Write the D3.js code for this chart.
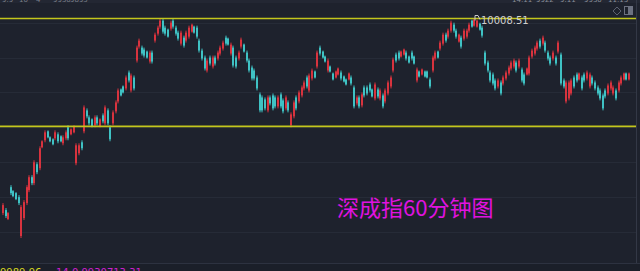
<!DOCTYPE html>
<html>
<head>
  <meta charset="UTF-8">
  <style>
    html, body { margin: 0; padding: 0; background: #1e222d; overflow: hidden; }
    svg { display: block; }
  </style>
</head>
<body>
<svg></svg>
<script src="https://d3js.org/d3.v7.min.js"></script>
<script>

    let width = 640;
    let height = 271;

    // 60 minute bars, [open, high, low, close]
    let candles = [
      [9423,9453,9417,9447],[9432,9438,9408,9414],[9405,9426,9402,9423],[9501,9507,9477,9483],
      [9489,9492,9471,9474],[9483,9486,9462,9465],[9471,9477,9447,9453],[9354,9447,9348,9441],
      [9408,9462,9402,9456],[9453,9507,9447,9501],[9492,9537,9486,9531],[9531,9537,9507,9513],
      [9513,9582,9507,9576],[9570,9576,9540,9546],[9558,9624,9552,9618],[9621,9642,9618,9639],
      [9642,9672,9636,9666],[9669,9672,9648,9651],[9651,9654,9636,9639],[9645,9648,9627,9630],
      [9648,9672,9642,9666],[9660,9666,9633,9639],[9654,9657,9636,9639],[9633,9657,9627,9651],
      [9648,9672,9642,9666],[9681,9687,9642,9648],[9660,9678,9657,9675],[9666,9687,9663,9684],
      [9573,9633,9567,9627],[9603,9633,9597,9627],[9636,9642,9612,9618],[9669,9747,9663,9741],
      [9732,9738,9708,9714],[9711,9717,9687,9693],[9705,9708,9681,9684],[9687,9717,9681,9711],
      [9711,9717,9687,9693],[9684,9708,9681,9705],[9717,9723,9693,9699],[9693,9747,9687,9741],
      [9732,9738,9687,9693],[9681,9687,9639,9645],[9693,9732,9687,9726],[9729,9762,9723,9756],
      [9759,9798,9753,9792],[9795,9798,9774,9777],[9804,9807,9783,9786],[9798,9837,9792,9831],
      [9846,9852,9816,9822],[9792,9843,9786,9837],[9831,9837,9792,9798],[9882,9927,9876,9921],
      [9924,9948,9918,9942],[9921,9927,9897,9903],[9915,9921,9891,9897],[9909,9912,9888,9891],
      [9879,9912,9873,9906],[9906,9912,9873,9879],[9942,9966,9936,9960],[9963,9987,9957,9981],
      [9984,10008,9978,10002],[10002,10008,9963,9969],[9981,9987,9957,9963],[9975,9978,9951,9954],
      [9978,10002,9972,9996],[10002,10008,9978,9984],[9981,9987,9957,9963],[9966,9972,9942,9948],
      [9933,9972,9927,9966],[9951,9957,9921,9927],[9942,9972,9936,9966],[9954,9987,9948,9981],
      [9969,9993,9966,9990],[9984,9987,9963,9966],[9981,9987,9948,9954],[9942,9948,9906,9912],
      [9912,9918,9882,9888],[9891,9897,9852,9858],[9852,9888,9846,9882],[9891,9897,9867,9873],
      [9864,9897,9858,9891],[9891,9897,9867,9873],[9888,9912,9882,9906],[9903,9927,9897,9921],
      [9918,9942,9912,9936],[9951,9957,9927,9933],[9948,9951,9927,9930],[9903,9936,9897,9930],
      [9921,9927,9861,9867],[9891,9897,9858,9864],[9888,9912,9882,9906],[9924,9951,9918,9945],
      [9930,9933,9906,9909],[9906,9912,9876,9882],[9882,9888,9846,9852],[9861,9867,9822,9828],
      [9852,9858,9822,9828],[9831,9837,9792,9798],[9780,9786,9726,9732],[9771,9777,9726,9732],
      [9765,9771,9732,9738],[9732,9777,9726,9771],[9771,9777,9747,9753],[9777,9783,9732,9738],
      [9771,9777,9738,9744],[9744,9777,9738,9771],[9780,9786,9738,9744],[9762,9768,9723,9729],
      [9738,9777,9732,9771],[9756,9762,9726,9732],[9687,9726,9681,9720],[9714,9762,9708,9756],
      [9771,9777,9732,9738],[9759,9792,9753,9786],[9777,9807,9771,9801],[9798,9822,9792,9816],
      [9831,9837,9798,9804],[9792,9843,9786,9837],[9828,9858,9822,9852],[9849,9852,9828,9831],
      [9864,9912,9858,9906],[9921,9927,9897,9903],[9909,9912,9888,9891],[9894,9897,9876,9879],
      [9852,9888,9846,9882],[9864,9867,9846,9849],[9843,9846,9822,9825],[9831,9852,9828,9849],
      [9840,9861,9837,9858],[9846,9852,9822,9828],[9834,9837,9816,9819],[9825,9828,9807,9810],
      [9825,9846,9822,9843],[9831,9837,9807,9813],[9801,9807,9738,9744],[9753,9777,9747,9771],
      [9771,9777,9738,9744],[9747,9786,9741,9780],[9801,9807,9771,9777],[9801,9807,9777,9783],
      [9810,9816,9786,9792],[9795,9798,9771,9774],[9768,9816,9762,9810],[9795,9801,9768,9774],
      [9768,9798,9762,9792],[9777,9783,9738,9744],[9759,9798,9753,9792],[9783,9822,9777,9816],
      [9804,9837,9798,9831],[9852,9891,9846,9885],[9900,9906,9876,9882],[9906,9912,9882,9888],
      [9894,9912,9891,9909],[9900,9918,9897,9915],[9906,9912,9882,9888],[9894,9897,9873,9876],
      [9906,9912,9882,9888],[9894,9897,9870,9873],[9822,9861,9816,9855],[9849,9852,9831,9834],
      [9840,9858,9837,9855],[9849,9852,9831,9834],[9849,9852,9828,9831],[9825,9831,9798,9804],
      [9852,9897,9846,9891],[9888,9912,9882,9906],[9909,9912,9888,9891],[9918,9942,9912,9936],
      [9933,9966,9927,9960],[9960,9966,9936,9942],[9954,9978,9948,9972],[9972,10002,9966,9996],
      [9990,9996,9966,9972],[9972,9978,9948,9954],[9939,9963,9936,9960],[9951,9957,9918,9924],
      [9948,9978,9942,9972],[9954,9978,9948,9972],[9972,9996,9966,9990],[10002,10005,9981,9984],
      [9987,10008.51,9984,10005],[9984,10005,9981,10002],[9993,9996,9972,9975],[9981,9987,9951,9957],
      [9906,9912,9867,9873],[9876,9882,9846,9852],[9846,9852,9816,9822],[9840,9846,9807,9813],
      [9822,9828,9792,9798],[9804,9828,9798,9822],[9816,9822,9777,9783],[9813,9837,9807,9831],
      [9828,9852,9822,9846],[9843,9867,9837,9861],[9858,9882,9852,9876],[9864,9888,9858,9882],
      [9876,9882,9846,9852],[9864,9888,9858,9882],[9855,9861,9816,9822],[9840,9846,9807,9813],
      [9840,9861,9837,9858],[9843,9897,9837,9891],[9894,9918,9888,9912],[9903,9927,9897,9921],
      [9918,9942,9912,9936],[9942,9948,9918,9924],[9933,9957,9927,9951],[9936,9942,9906,9912],
      [9906,9912,9882,9888],[9891,9897,9867,9873],[9888,9912,9882,9906],[9891,9897,9867,9873],
      [9909,9942,9903,9936],[9900,9906,9807,9813],[9822,9828,9798,9804],[9759,9822,9753,9816],
      [9768,9822,9762,9816],[9783,9828,9777,9822],[9831,9837,9798,9804],[9840,9846,9816,9822],
      [9825,9846,9822,9843],[9831,9837,9792,9798],[9840,9846,9816,9822],[9828,9852,9822,9846],
      [9804,9846,9798,9840],[9831,9837,9807,9813],[9816,9822,9792,9798],[9801,9807,9777,9783],
      [9792,9798,9762,9768],[9777,9783,9732,9738],[9792,9798,9768,9774],[9783,9813,9777,9807],
      [9798,9822,9792,9816],[9783,9807,9777,9801],[9792,9798,9762,9768],[9792,9822,9786,9816],
      [9813,9837,9807,9831],[9825,9846,9822,9843],[9843,9846,9822,9825],[9825,9846,9822,9843]
    ];

    let levels = [10008.51, 9684];           // yellow horizontal lines
    let gridPrices = [9366, 9471, 9576, 9681, 9786, 9891, 9996];
    let title = "深成指60分钟图";
    let highLabel = "10008.51";
    let topInfo = ["9.9", "10", "4", "9950", "9895"];
    let topRightInfo = ["14:11", "9922", "9.11", "9930", "11:13"];
    let bottomInfo = ["9989.96", "14.0  9930713.31"];

    let svg = d3.select("svg")
        .attr("width", width)
        .attr("height", height);

    svg.append("rect")
        .attr("width", width).attr("height", height)
        .attr("fill", "#1e222d");

    let plotRight = 636;

    let x = d3.scaleLinear()
        .domain([0, candles.length - 1])
        .range([2, 628]);

    let y = d3.scaleLinear()
        .domain([d3.min(candles, d => d[2]), d3.max(candles, d => d[1])])
        .range([238, 18.5]);

    // faint grid
    svg.append("g")
      .selectAll("line")
      .data(gridPrices)
      .enter()
      .append("line")
        .attr("x1", 0).attr("x2", plotRight)
        .attr("y1", d => Math.round(y(d)) + 0.5)
        .attr("y2", d => Math.round(y(d)) + 0.5)
        .attr("stroke", "#262b37")
        .attr("stroke-width", 1);

    // top toolbar strip, mostly scrolled out of view
    svg.append("rect")
        .attr("x", 0).attr("y", 0).attr("width", width).attr("height", 3)
        .attr("fill", "#232733");
    svg.append("g")
      .selectAll("text")
      .data(topInfo)
      .enter()
      .append("text")
        .attr("x", (d, i) => 2 + i * 17)
        .attr("y", 2)
        .attr("fill", "#7a7f8a")
        .style("font", "7px 'DejaVu Sans'")
        .text(d => d);
    svg.append("g")
      .selectAll("text")
      .data(topRightInfo)
      .enter()
      .append("text")
        .attr("x", (d, i) => 512 + i * 24)
        .attr("y", 2)
        .attr("fill", "#8a8f9a")
        .style("font", "7px 'DejaVu Sans'")
        .text(d => d);

    // right separator
    svg.append("line")
        .attr("x1", plotRight + 0.5).attr("x2", plotRight + 0.5)
        .attr("y1", 0).attr("y2", 263)
        .attr("stroke", "#333846");

    // bottom separator and info row
    svg.append("rect")
        .attr("x", 0).attr("y", 263).attr("width", width).attr("height", 8)
        .attr("fill", "#1b1f29");
    svg.append("line")
        .attr("x1", 0).attr("x2", width)
        .attr("y1", 263.5).attr("y2", 263.5)
        .attr("stroke", "#2d3240");
    svg.append("text")
        .attr("x", 0).attr("y", 276)
        .attr("fill", "#d8d820")
        .style("font", "10px 'DejaVu Sans'")
        .text(bottomInfo[0]);
    svg.append("text")
        .attr("x", 56).attr("y", 276)
        .attr("fill", "#d020d0")
        .style("font", "10px 'DejaVu Sans'")
        .text(bottomInfo[1]);

    // candles
    let up = "#d8333e";
    let down = "#3fc2c4";
    let cg = svg.append("g").attr("id", "candles");

    cg.selectAll("line")
      .data(candles)
      .enter()
      .append("line")
        .attr("x1", (d, i) => Math.round(x(i)) + 1)
        .attr("x2", (d, i) => Math.round(x(i)) + 1)
        .attr("y1", d => y(d[1]))
        .attr("y2", d => y(d[2]))
        .attr("stroke", d => d[3] >= d[0] ? up : down)
        .attr("stroke-width", 1);

    cg.selectAll("rect")
      .data(candles)
      .enter()
      .append("rect")
        .attr("x", (d, i) => Math.round(x(i)))
        .attr("width", 2)
        .attr("y", d => y(Math.max(d[0], d[3])))
        .attr("height", d => Math.max(1, Math.abs(y(d[0]) - y(d[3]))))
        .attr("fill", d => d[3] >= d[0] ? up : down);

    // support / resistance lines
    svg.append("g")
      .selectAll("line")
      .data(levels)
      .enter()
      .append("line")
        .attr("x1", 0).attr("x2", plotRight)
        .attr("y1", d => y(d)).attr("y2", d => y(d))
        .attr("stroke", "#c3c61c")
        .attr("stroke-width", 1.6);

    // high marker
    let hiIdx = d3.maxIndex(candles, d => d[1]);
    let hx = Math.round(x(hiIdx)) + 1;
    let hy = y(candles[hiIdx][1]);
    svg.append("path")
        .attr("d", "M" + (hx + 1) + "," + (hy + 2) + " L" + (hx + 1) + "," + (hy - 3) +
                   " L" + (hx + 4) + "," + (hy - 3) + " L" + (hx + 6) + "," + (hy + 1))
        .attr("fill", "none")
        .attr("stroke", "#c8c8c8")
        .attr("stroke-width", 1);
    svg.append("text")
        .attr("x", hx + 7).attr("y", hy + 5)
        .attr("fill", "#d0d0d0")
        .style("font", "10px 'DejaVu Sans'")
        .text(highLabel);

    // top-right icons
    svg.append("path")
        .attr("d", "M617,7 L621,11 L617,15 L613,11 Z")
        .attr("fill", "none").attr("stroke", "#5c6170");
    svg.append("rect")
        .attr("x", 624.5).attr("y", 6.5).attr("width", 8).attr("height", 8)
        .attr("fill", "none").attr("stroke", "#6c7180");
    svg.append("rect")
        .attr("x", 628).attr("y", 7).attr("width", 4).attr("height", 7)
        .attr("fill", "#6c7180");

    // title
    svg.append("text")
        .attr("x", 337).attr("y", 216)
        .attr("fill", "#e012e0")
        .style("font", "22px 'Noto Sans CJK SC'")
        .text(title);

</script>
</body>
</html>
